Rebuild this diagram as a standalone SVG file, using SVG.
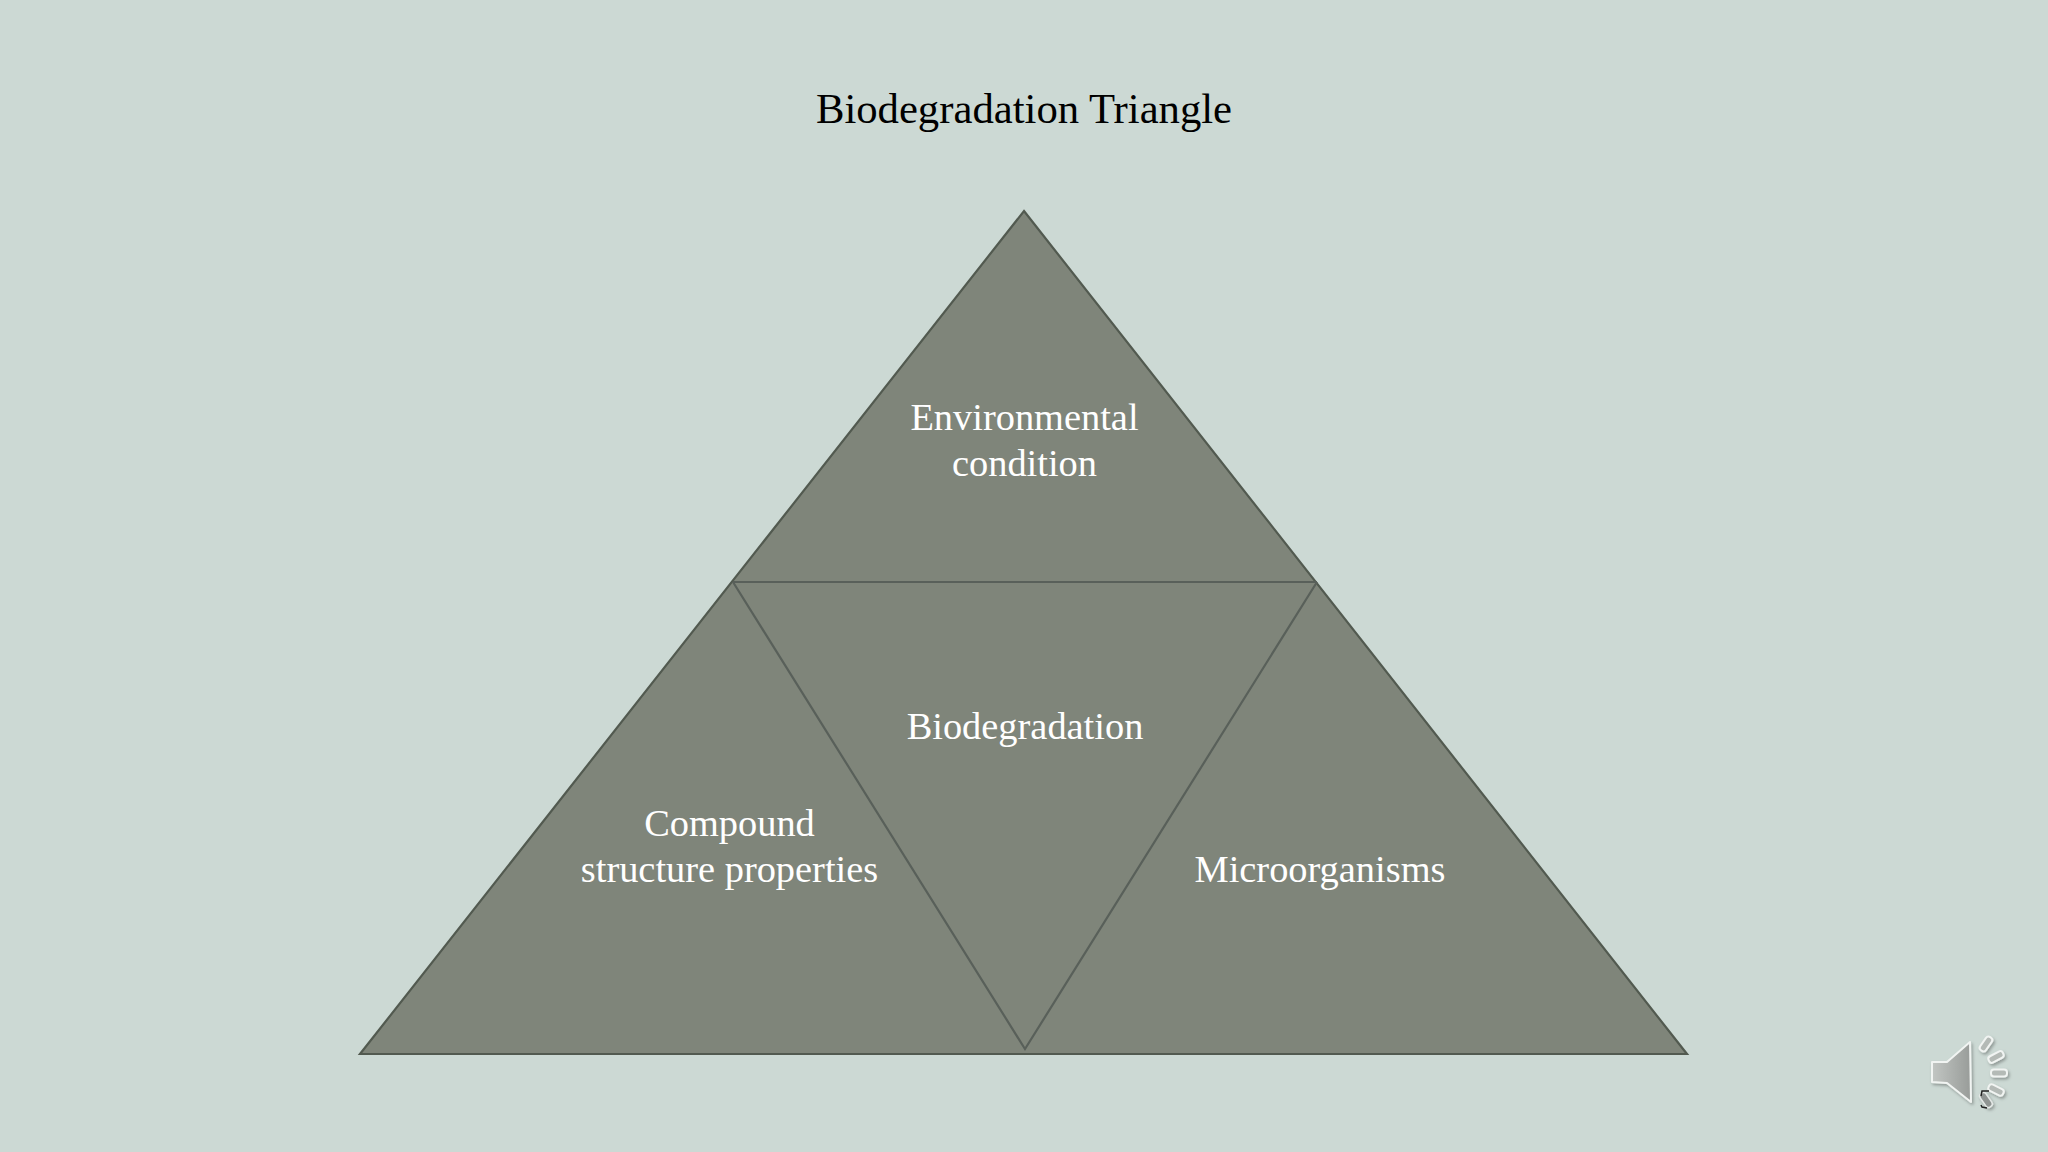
<svg xmlns="http://www.w3.org/2000/svg" width="2048" height="1152" viewBox="0 0 2048 1152">
<style>
.t{font-family:"Liberation Serif","Times New Roman",serif;font-size:38.4px;text-anchor:middle;fill:#fff}
.e{fill:#7f857a;stroke:#525a50;stroke-width:2.200;stroke-linejoin:miter}
.i{fill:none;stroke:#59605a;stroke-width:2.200}
.d{fill:#b4bab6;stroke:#f1f4f2;stroke-width:2}
</style>
<defs>
<linearGradient id="sp" x1="0" y1="0" x2="1" y2="0"><stop offset="0" stop-color="#c2c6c3"/><stop offset="1" stop-color="#989c99"/></linearGradient>
<filter id="sh" x="-20%" y="-20%" width="150%" height="150%"><feDropShadow dx="1.5" dy="2" stdDeviation="1.5" flood-color="#000" flood-opacity="0.3"/></filter>
</defs>
<rect width="2048" height="1152" fill="#ccd9d4"/>
<text id="title" x="1024" y="122.500" style="font-family:'Liberation Serif','Times New Roman',serif;font-size:42.7px;text-anchor:middle;fill:#000">Biodegradation Triangle</text>
<g id="triangle"><polygon class="e" points="1024,211 1687,1054 360,1054"/></g>
<g id="connectors">
<path class="i" d="M733,582H1317"/>
<path class="i" d="M733,582L1025,1049L1317,582"/>
</g>
<g id="node-environmental"><text class="t" x="1024.500" y="430">Environmental</text><text class="t" x="1024.500" y="476">condition</text></g>
<g id="node-biodegradation"><text class="t" x="1025" y="739">Biodegradation</text></g>
<g id="node-compound"><text class="t" x="729.500" y="836">Compound</text><text class="t" x="729.500" y="882">structure properties</text></g>
<g id="node-microorganisms"><text class="t" x="1320" y="882">Microorganisms</text></g>
<g id="speaker" filter="url(#sh)">
<polygon points="1932,1062 1947,1062 1970,1042 1971,1102 1947,1083 1932,1082" fill="url(#sp)" stroke="#f1f4f2" stroke-width="2" stroke-linejoin="round"/>
<rect class="d" x="-3.500" y="-8" width="7" height="16" rx="3" transform="translate(1986,1044) rotate(35)"/>
<rect class="d" x="-3.500" y="-8" width="7" height="16" rx="3" transform="translate(1996,1057) rotate(62)"/>
<rect class="d" x="-3.500" y="-8" width="7" height="16" rx="3" transform="translate(1999,1073) rotate(90)"/>
<rect class="d" x="-3.500" y="-8" width="7" height="16" rx="3" transform="translate(1996,1090) rotate(116)"/>
<rect x="-3.500" y="-8" width="7" height="16" rx="3" transform="translate(1986,1100) rotate(145)" fill="#8f9492" stroke="#e4e8e6" stroke-width="1.500"/>
</g>
<path d="M1989,1091H1982L1981,1096M1981,1105L1982,1107L1987,1108" fill="none" stroke="#222" stroke-width="1.500"/>
</svg>
